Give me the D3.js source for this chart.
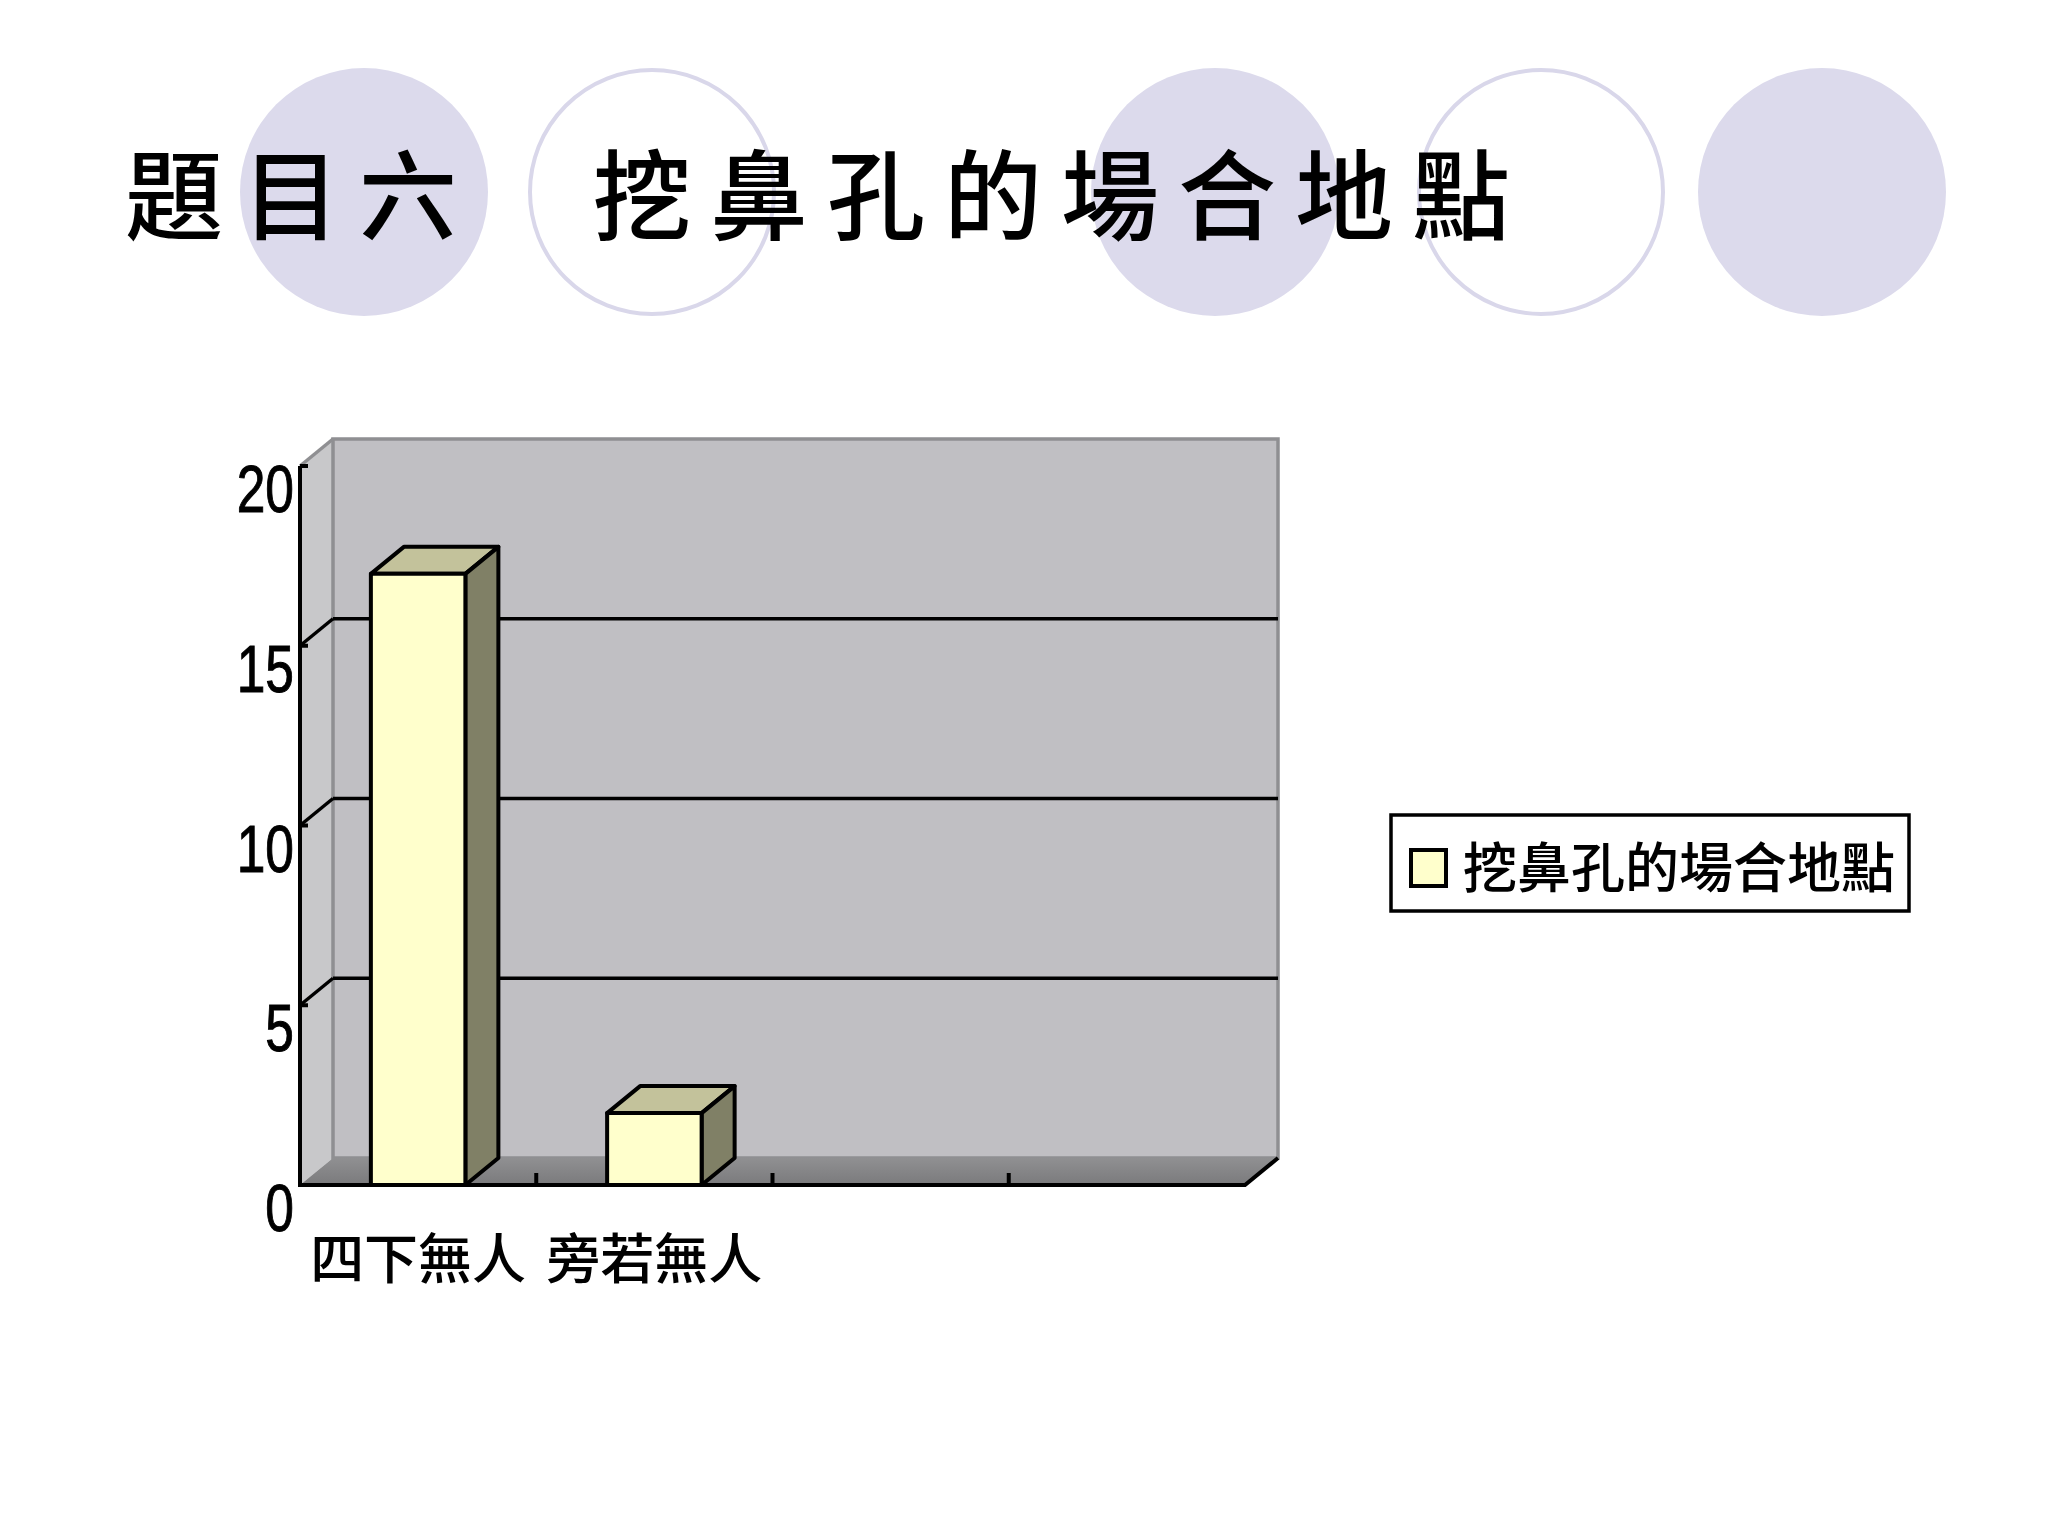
<!DOCTYPE html>
<html>
<head>
<meta charset="utf-8">
<script src="https://cdn.jsdelivr.net/npm/d3@7"></script>
<style>
  html, body { margin: 0; padding: 0; background: #fff; }
  svg { display: block; }
</style>
</head>
<body>
<svg id="chart" width="2048" height="1536"></svg>
<script>
// data
const titleText = "題目六　挖鼻孔的場合地點";
const seriesName = "挖鼻孔的場合地點";
const categories = ["四下無人", "旁若無人", "", ""];
const values = [17, 2, null, null];
const yTicks = [0, 5, 10, 15, 20];

const svg = d3.select("#chart");

// decorative circles of the slide template
const decor = [
  { cx: 364, filled: true },
  { cx: 652, filled: false },
  { cx: 1215, filled: true },
  { cx: 1541, filled: false },
  { cx: 1822, filled: true }
];

svg.append("g").selectAll("circle")
  .data(decor)
  .join("circle")
  .attr("cx", d => d.cx)
  .attr("cy", 192)
  .attr("r", d => d.filled ? 124 : 122)
  .attr("fill", d => d.filled ? "#dcdaec" : "none")
  .attr("stroke", d => d.filled ? "none" : "#d9d7ea")
  .attr("stroke-width", 4);

svg.append("text")
  .attr("x", 125)
  .attr("y", 232)
  .attr("font-family", "'Noto Sans CJK TC', 'Noto Sans CJK SC', sans-serif")
  .attr("font-weight", 500)
  .attr("font-size", 98)
  .attr("letter-spacing", 19)
  .attr("fill", "#000")
  .text(titleText);

// plot frame
const plotLeft = 300, plotRight = 1245, plotBottom = 1185, plotTop = 466;
const depthX = 33, depthY = -27;

const x = d3.scaleBand()
  .domain(d3.range(categories.length))
  .range([plotLeft, plotRight])
  .paddingInner(0.6)
  .paddingOuter(0.3);

const xCat = d3.scaleBand()
  .domain(d3.range(categories.length))
  .range([plotLeft, plotRight]);

const y = d3.scaleLinear().domain([0, 20]).range([plotBottom, plotTop]);

const plot = svg.append("g");

// side wall
plot.append("path")
  .attr("d", `M${plotLeft},${y(20)} L${plotLeft + depthX},${y(20) + depthY} L${plotLeft + depthX},${y(0) + depthY} L${plotLeft},${y(0)} Z`)
  .attr("fill", "#c8c8ca");

// back wall
plot.append("rect")
  .attr("x", plotLeft + depthX)
  .attr("y", y(20) + depthY)
  .attr("width", plotRight - plotLeft)
  .attr("height", y(0) - y(20))
  .attr("fill", "#c0bfc3")
  .attr("stroke", "#8f8f92")
  .attr("stroke-width", 3.5);

// floor
const floorGrad = svg.append("defs").append("linearGradient")
  .attr("id", "floorGrad").attr("x1", 0).attr("y1", 0).attr("x2", 0).attr("y2", 1);
floorGrad.append("stop").attr("offset", 0).attr("stop-color", "#909092");
floorGrad.append("stop").attr("offset", 1).attr("stop-color", "#7a7a7c");

plot.append("path")
  .attr("d", `M${plotLeft},${y(0)} L${plotLeft + depthX},${y(0) + depthY} L${plotRight + depthX},${y(0) + depthY} L${plotRight},${y(0)} Z`)
  .attr("fill", "url(#floorGrad)");

// side wall top edge
plot.append("line")
  .attr("x1", plotLeft).attr("y1", y(20))
  .attr("x2", plotLeft + depthX).attr("y2", y(20) + depthY)
  .attr("stroke", "#8f8f92").attr("stroke-width", 3.5);

// gridlines (back wall + side wall)
const grid = plot.append("g")
  .attr("stroke", "#000")
  .attr("stroke-width", 3.5);

grid.selectAll("line.back")
  .data(yTicks.filter(v => v > 0 && v < 20))
  .join("line")
  .attr("class", "back")
  .attr("x1", plotLeft + depthX).attr("x2", plotRight + depthX)
  .attr("y1", v => y(v) + depthY).attr("y2", v => y(v) + depthY);

grid.selectAll("line.side")
  .data(yTicks.filter(v => v > 0 && v < 20))
  .join("line")
  .attr("class", "side")
  .attr("x1", plotLeft).attr("y1", v => y(v))
  .attr("x2", plotLeft + depthX).attr("y2", v => y(v) + depthY);

// bars
const bars = plot.append("g")
  .selectAll("g.bar")
  .data(values.map((v, i) => ({ v, i })).filter(d => d.v != null))
  .join("g")
  .attr("class", "bar")
  .attr("stroke", "#000")
  .attr("stroke-width", 4)
  .attr("stroke-linejoin", "round");

bars.append("path")
  .attr("d", d => {
    const x0 = x(d.i), x1 = x(d.i) + x.bandwidth(), yt = y(d.v);
    return `M${x0},${yt} L${x0 + depthX},${yt + depthY} L${x1 + depthX},${yt + depthY} L${x1},${yt} Z`;
  })
  .attr("fill", "#c3c29b");

bars.append("path")
  .attr("d", d => {
    const x1 = x(d.i) + x.bandwidth(), yt = y(d.v), yb = y(0);
    return `M${x1},${yt} L${x1 + depthX},${yt + depthY} L${x1 + depthX},${yb + depthY} L${x1},${yb} Z`;
  })
  .attr("fill", "#808066");

bars.append("rect")
  .attr("x", d => x(d.i))
  .attr("y", d => y(d.v))
  .attr("width", x.bandwidth())
  .attr("height", d => y(0) - y(d.v))
  .attr("fill", "#ffffcc");

// axes
const axes = plot.append("g")
  .attr("stroke", "#000")
  .attr("stroke-width", 4)
  .attr("fill", "none");

axes.append("path")
  .attr("d", `M${plotLeft},${y(20)} L${plotLeft},${y(0)} L${plotRight},${y(0)} L${plotRight + depthX},${y(0) + depthY}`);

axes.selectAll("line.ytick")
  .data(yTicks)
  .join("line")
  .attr("class", "ytick")
  .attr("x1", plotLeft).attr("x2", plotLeft + 8)
  .attr("y1", v => y(v)).attr("y2", v => y(v));

axes.selectAll("line.xtick")
  .data(d3.range(1, categories.length))
  .join("line")
  .attr("class", "xtick")
  .attr("x1", i => xCat(i)).attr("x2", i => xCat(i))
  .attr("y1", y(0)).attr("y2", y(0) - 12);

// y labels
plot.append("g")
  .selectAll("text")
  .data(yTicks)
  .join("text")
  .attr("transform", v => `translate(${plotLeft - 6},${y(v) + 46}) scale(0.78,1)`)
  .attr("text-anchor", "end")
  .attr("font-family", "'Liberation Sans', Arial, sans-serif")
  .attr("font-size", 66)
  .attr("fill", "#000")
  .attr("stroke", "#000")
  .attr("stroke-width", 1)
  .text(v => v);

// category labels
plot.append("g")
  .selectAll("text")
  .data(categories)
  .join("text")
  .attr("x", (d, i) => xCat(i) + xCat.bandwidth() / 2)
  .attr("y", 1279)
  .attr("text-anchor", "middle")
  .attr("font-family", "'Noto Sans CJK TC', sans-serif")
  .attr("font-weight", 500)
  .attr("font-size", 54)
  .attr("fill", "#000")
  .text(d => d);

// legend
const legend = svg.append("g");
legend.append("rect")
  .attr("x", 1391).attr("y", 815)
  .attr("width", 518).attr("height", 96)
  .attr("fill", "#fff")
  .attr("stroke", "#000")
  .attr("stroke-width", 3.5);
legend.append("rect")
  .attr("x", 1411).attr("y", 850)
  .attr("width", 35).attr("height", 36)
  .attr("fill", "#ffffcc")
  .attr("stroke", "#000")
  .attr("stroke-width", 4);
legend.append("text")
  .attr("x", 1463).attr("y", 888)
  .attr("font-family", "'Noto Sans CJK TC', sans-serif")
  .attr("font-weight", 500)
  .attr("font-size", 54)
  .attr("fill", "#000")
  .text(seriesName);
</script>
</body>
</html>
